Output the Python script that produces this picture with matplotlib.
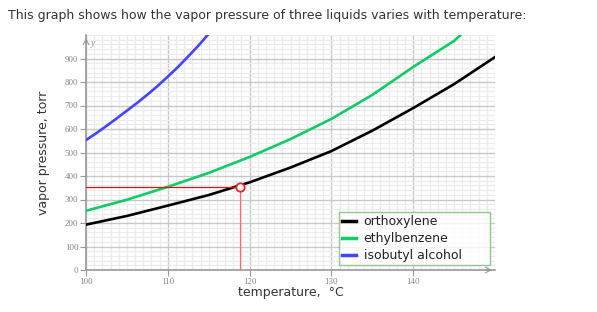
import matplotlib

matplotlib.use("Agg")
import matplotlib.pyplot as plt  # noqa: E402
from matplotlib.patches import FancyBboxPatch  # noqa: E402
from matplotlib.ticker import MultipleLocator  # noqa: E402

# values (temperature in C, pressure in torr)
ortho_t = [100, 105, 110, 115, 120, 125, 130, 135, 140, 145, 150]
ortho_p = [193, 230, 274, 319, 373, 436, 506, 593, 689, 791, 906]
ethyl_t = [100, 105, 110, 115, 120, 125, 130, 135, 140, 145, 145.8]
ethyl_p = [252, 299, 354, 413, 481, 557, 643, 745, 864, 975, 1000]
isob_t = [100, 101.25, 102.5, 103.75, 105, 106.25, 107.5, 108.75, 110, 111.25, 112.5, 113.75, 115]
isob_p = [553, 582, 613, 645, 678, 711, 746, 783, 823, 864, 909, 955, 1005]
marker_t, marker_p = 118.8, 355

x_ticks = [100, 110, 120, 130, 140]
y_ticks = [0, 100, 200, 300, 400, 500, 600, 700, 800, 900]

fig = plt.figure(figsize=(5.97, 3.12), dpi=100)
ax = fig.add_axes([86 / 597, 42 / 312, 409 / 597, 235 / 312])
ax.set_xlim(100, 150)
ax.set_ylim(0, 1000)

ax.xaxis.set_minor_locator(MultipleLocator(1))
ax.yaxis.set_minor_locator(MultipleLocator(20))
ax.grid(which="minor", color="#ececec", lw=0.9)
ax.grid(which="major", color="#c8c8c8", lw=1.0)
ax.set_axisbelow(True)

for s in ["top", "right"]:
    ax.spines[s].set_visible(False)
for s in ["left", "bottom"]:
    ax.spines[s].set_color("#999999")
    ax.spines[s].set_linewidth(1.2)

ax.set_xticks(x_ticks, [str(v) for v in x_ticks])
ax.set_yticks(y_ticks, [str(v) for v in y_ticks])
ax.tick_params(which="major", length=4, width=0.8, color="#999999",
               labelsize=6.5, labelcolor="#888888", pad=1.5)
ax.tick_params(which="minor", length=0)
for lab in ax.get_xticklabels() + ax.get_yticklabels():
    lab.set_fontfamily("Liberation Serif")

# axis arrows
ax.annotate("", xy=(0, 1.0), xytext=(0, 0.96), xycoords="axes fraction",
            arrowprops=dict(arrowstyle="->", color="#999999", lw=0.8))
ax.annotate("", xy=(1.0, 0), xytext=(0.97, 0), xycoords="axes fraction",
            arrowprops=dict(arrowstyle="->", color="#999999", lw=0.8))
ax.text(0.012, 0.985, "y", transform=ax.transAxes, fontsize=7, color="#999999",
        family="Liberation Serif", style="italic", va="top")

ax.plot(ortho_t, ortho_p, color="black", lw=1.9, label="orthoxylene", zorder=3)
ax.plot(ethyl_t, ethyl_p, color="#11cc66", lw=1.9, label="ethylbenzene", zorder=3)
ax.plot(isob_t, isob_p, color="#4444ff", lw=1.9, label="isobutyl alcohol", zorder=3)

ax.plot([100, marker_t], [marker_p, marker_p], color="#dd1111", lw=0.9, zorder=4)
ax.plot([marker_t, marker_t], [0, marker_p], color="#ff6666", lw=0.9, zorder=4)
ax.plot([marker_t], [marker_p], "o", ms=6, mfc="white", mec="#ee2222", mew=1.3, zorder=5)

leg = ax.legend(loc="lower left", bbox_to_anchor=(0.619, 0.021, 0.369, 0.222),
                mode="expand", fontsize=9, frameon=True, fancybox=False,
                handlelength=1.1, handletextpad=0.6, borderpad=0.25,
                labelspacing=0.32, borderaxespad=0)
leg.get_frame().set_edgecolor("#77bb77")
leg.get_frame().set_linewidth(1.0)
for t in leg.get_texts():
    t.set_color("#222222")
for h in leg.get_lines():
    h.set_linewidth(2.5)

ax.set_xlabel("temperature,  °C", fontsize=9, color="#333333", labelpad=0.5)
ax.set_ylabel("vapor pressure, torr", fontsize=9, color="#333333", labelpad=11)

fig.text(8 / 597, 1 - 15 / 312, "This graph shows how the vapor pressure of three "
         "liquids varies with temperature:", fontsize=9.0, color="#333333", va="center")
fig.patches.append(FancyBboxPatch((57 / 597, 1.0), 34 / 597, 0.02,
                                  boxstyle="round,pad=0.0,rounding_size=0.012",
                                  transform=fig.transFigure, fc="#d8f0f6", ec="none"))

fig.savefig("out.png", dpi=100)
